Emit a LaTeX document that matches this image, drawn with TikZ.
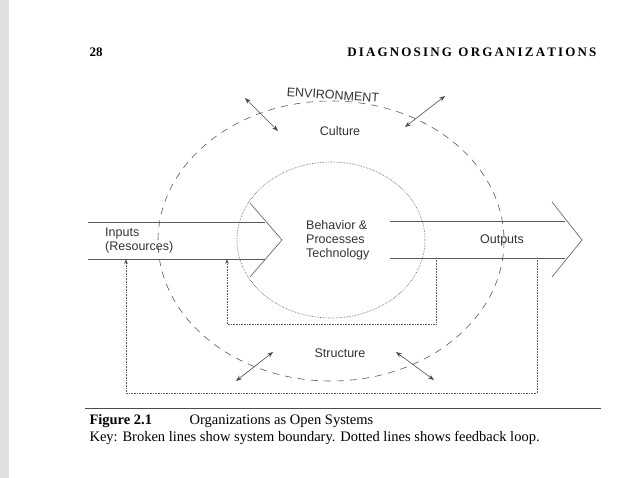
\documentclass[tikz,border=0pt]{standalone}
\usepackage{fontspec}
\setmainfont{Liberation Serif}
\setsansfont{Liberation Sans}
\usetikzlibrary{arrows.meta}
\begin{document}
\begin{tikzpicture}[x=1pt,y=-1pt,
  lbl/.style={font=\sffamily\fontsize{12.5}{14}\selectfont,text=black!80,inner sep=0,align=left},
  bound/.style={draw=black!65,dash pattern=on 7pt off 6pt,line width=0.6pt},
  fb/.style={draw=black!65,densely dotted,line width=0.6pt},
  arr/.style={draw=black!65,line width=0.6pt},
  dbl/.style={draw=black!70,line width=0.6pt,{Stealth[length=6pt]}-{Stealth[length=6pt]}}]
\useasboundingbox (0,0) rectangle (638,478);
\fill[black!12] (0,0) rectangle (9,478);
\node[anchor=west,font=\bfseries\fontsize{13}{15}\selectfont] (pg) at (86,52) {28};
\node[anchor=east,font=\bfseries\fontsize{13}{15}\selectfont] (hd) at (600,52) {D\,I\,A\,G\,N\,O\,S\,I\,N\,G\ \ O\,R\,G\,A\,N\,I\,Z\,A\,T\,I\,O\,N\,S};
% ellipses
\draw[bound] (331,241) ellipse [x radius=173, y radius=140];
\draw[fb] (331,240) ellipse [x radius=94, y radius=78];
% input arrow
\coordinate (i1) at (88,222); \coordinate (i2) at (265,222);
\coordinate (i3) at (88,259); \coordinate (i4) at (265,259);
\draw[arr] (i1) -- (i2); \draw[arr] (i3) -- (i4);
\draw[arr] (250,203) -- (282,240) -- (250,277);
\coordinate (o1) at (390,221); \coordinate (o2) at (565,221);
\coordinate (o3) at (390,258); \coordinate (o4) at (565,258);
\draw[arr] (o1) -- (o2); \draw[arr] (o3) -- (o4);
\draw[arr] (552,202) -- (582,240) -- (552,277);
% feedback
\coordinate (fa) at (436,258); \coordinate (fb1) at (227,259);
\draw[fb,-{Stealth[length=5pt]}] (fa) -- (436,324) -- (227,324) -- (fb1);
\coordinate (ga) at (537,258); \coordinate (gb) at (126,259);
\draw[fb,-{Stealth[length=5pt]}] (ga) -- (537,393) -- (126,393) -- (gb);
% double arrows
\draw[dbl] (245,98) -- (278,131);
\draw[dbl] (445,96) -- (405,127);
\draw[dbl] (236,381) -- (273,352);
\draw[dbl] (434,380) -- (396,352);
% labels
\node[lbl,rotate=-4] (env) at (333,95) {ENVIRONMENT};
\node[lbl] (cul) at (340,131) {Culture};
\node[lbl,anchor=west] (inp) at (105,240) {Inputs\\(Resources)};
\node[lbl,anchor=west] (beh) at (306,240) {Behavior \&\\Processes\\Technology};
\node[lbl] (out) at (502,240) {Outputs};
\node[lbl] (str) at (340,353) {Structure};
% caption
\draw[black!70,line width=0.8pt] (85,408) -- (601,408);
\node[anchor=west,font=\bfseries\fontsize{14.5}{16}\selectfont] (fig) at (86,421) {Figure 2.1};
\node[anchor=west,font=\fontsize{14.5}{16}\selectfont] (cap) at (186,421) {Organizations as Open Systems};
\node[anchor=west,font=\fontsize{14.5}{16}\selectfont] (key) at (86,438) {Key: Broken lines show system boundary. Dotted lines shows feedback loop.};
\end{tikzpicture}
\end{document}
